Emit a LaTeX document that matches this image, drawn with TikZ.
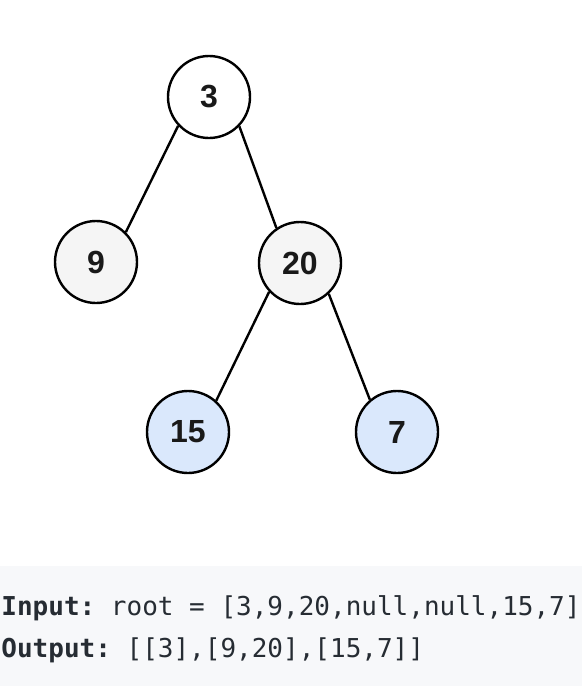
\documentclass[tikz,border=0pt]{standalone}
\usepackage{fontspec}
\setmainfont{Liberation Sans}
\setmonofont{DejaVu Sans Mono}
\usepackage{tikz}
\usetikzlibrary{positioning}
\definecolor{nodegray}{HTML}{F5F5F5}
\definecolor{leafblue}{HTML}{DAE8FC}
\definecolor{codebg}{HTML}{F7F8FA}
\definecolor{codetext}{HTML}{262C33}

\begin{document}
\begin{tikzpicture}[x=0.5pt, y=-0.5pt,
    tnode/.style={draw, circle, line width=1.2pt, minimum size=41pt, inner sep=0pt, text=black!90, font=\fontsize{16}{18}\selectfont\bfseries},
    edge/.style={line width=1.2pt},
    code/.style={anchor=base west, inner sep=0pt, text=codetext, font=\ttfamily\fontsize{13}{15}\selectfont}]
\useasboundingbox (0,0) rectangle (582,686);
\fill[codebg] (0,566) rectangle (582,686);
\node[tnode, fill=white] (n3) at (209,97) {3};
\node[tnode, fill=nodegray] (n9) at (96,262) {9};
\node[tnode, fill=nodegray] (n20) at (300,263) {20};
\node[tnode, fill=leafblue] (n15) at (188,432) {15};
\node[tnode, fill=leafblue] (n7) at (397,432) {7};
\draw[edge] (n3.-137) -- (n9.45);
\draw[edge] (n3.-44) -- (n20.124);
\draw[edge] (n20.-137) -- (n15.48);
\draw[edge] (n20.-47) -- (n7.130);
\node[code] (input) at (1,615) {\textbf{Input:} root = [3,9,20,null,null,15,7]};
\node[code] (output) at (1,657) {\textbf{Output:} [[3],[9,20],[15,7]]};
\end{tikzpicture}
\end{document}
